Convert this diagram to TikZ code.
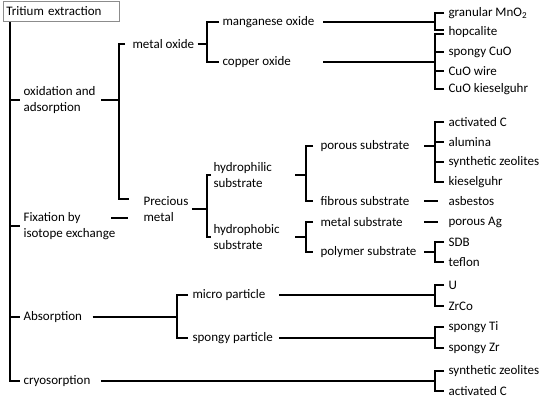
\documentclass[tikz,border=0pt]{standalone}
\usepackage{fontspec}
\setmainfont{Carlito}
\usetikzlibrary{calc}
\begin{document}
\begin{tikzpicture}[x=1pt,y=-1pt,line width=1.1pt,
  lbl/.style={anchor=west,inner sep=0pt,align=left,font=\fontsize{13}{16}\selectfont},
  rootbox/.style={draw=black!45,line width=0.8pt,fill=white,anchor=north west,text width=110pt,
    inner xsep=3pt,inner ysep=0pt,minimum height=20pt,align=left,font=\fontsize{13}{16}\selectfont}]
\useasboundingbox (0,0) rectangle (544,400);
% columns
\coordinate (s0) at (10,21);
\coordinate (s1) at (119,0);
\coordinate (s2) at (207,0);
\coordinate (s3) at (207,0);
\coordinate (s4) at (306,0);
\coordinate (s5) at (435,0);
\coordinate (s6) at (177,0);
\coordinate (c2) at (279,0);
\coordinate (c3) at (323,0);
\coordinate (c4) at (295,0);
\coordinate (c5) at (424,0);
\coordinate (precA) at (129,199);
\coordinate (fixA) at (111,218);
\coordinate (precB) at (128,218);
% root
\node[rootbox] (root) at (3,1) {Tritium extraction};
% level 1
\node[lbl] (oxad) at (23,100) {oxidation and\\adsorption};
\node[lbl] (fix) at (23,226) {Fixation by\\isotope exchange};
\node[lbl] (absn) at (23,317) {Absorption};
\node[lbl] (cryo) at (23,381) {cryosorption};
% level 2
\node[lbl] (metox) at (132,44) {metal oxide};
\node[lbl] (prec) at (143,209) {Precious\\metal};
\node[lbl] (micro) at (192,295) {micro particle};
\node[lbl] (spongp) at (192,338) {spongy particle};
% level 3
\node[lbl] (mang) at (222,22) {manganese oxide};
\node[lbl] (copp) at (222,62) {copper oxide};
\node[lbl] (hphil) at (213,175) {hydrophilic\\substrate};
\node[lbl] (hphob) at (213,237) {hydrophobic\\substrate};
% level 4
\node[lbl] (por) at (320,146) {porous substrate};
\node[lbl] (fib) at (320,201) {fibrous substrate};
\node[lbl] (met) at (320,222) {metal substrate};
\node[lbl] (poly) at (320,252) {polymer substrate};
% items
\node[lbl] (i1) at (448,13) {granular MnO\textsubscript{2}};
\node[lbl] (i2) at (448,32) {hopcalite};
\node[lbl] (i3) at (448,52) {spongy CuO};
\node[lbl] (i4) at (448,71) {CuO wire};
\node[lbl] (i5) at (448,89) {CuO kieselguhr};
\node[lbl] (i6) at (448,122) {activated C};
\node[lbl] (i7) at (448,142) {alumina};
\node[lbl] (i8) at (448,162) {synthetic zeolites};
\node[lbl] (i9) at (448,182) {kieselguhr};
\node[lbl] (i10) at (448,201) {asbestos};
\node[lbl] (i11) at (448,222) {porous Ag};
\node[lbl] (i12) at (448,242) {SDB};
\node[lbl] (i13) at (448,262) {teflon};
\node[lbl] (i14) at (448,285) {U};
\node[lbl] (i15) at (448,306) {ZrCo};
\node[lbl] (i16) at (448,327) {spongy Ti};
\node[lbl] (i17) at (448,348) {spongy Zr};
\node[lbl] (i18) at (448,371) {synthetic zeolites};
\node[lbl] (i19) at (448,391) {activated C};
% main spine
\draw ([xshift=7pt]root.south west) |- ([xshift=-3pt]cryo.west);
\foreach \n in {oxad,fix,absn} \draw (s0 |- \n.west) -- ([xshift=-3pt]\n.west);
% oxidation and adsorption
\draw ([xshift=5pt]oxad.east) -- (s1 |- oxad.east);
\draw ([xshift=-7pt]metox.west) -- (s1 |- metox.west) -- (s1 |- precA) -- (precA);
\draw (fixA) -- (precB);
% metal oxide
\draw ([xshift=3pt]metox.east) -- (s2 |- metox.east);
\draw ([xshift=-3pt]mang.west) -| (s2 |- copp.west) -- ([xshift=-3pt]copp.west);
\draw (c3 |- mang.west) -- (s5 |- mang.west);
\draw (c3 |- copp.west) -- (s5 |- copp.west);
\draw ([xshift=-4pt]i1.west) -| ($(s5|-i2.west)+(0,-2)$) -- ($(i2.west)+(-4,-2)$);
\draw ($(i2.west)+(-4,2)$) -| (s5 |- i5.west) -- ([xshift=-4pt]i5.west);
\foreach \i in {i3,i4} \draw (s5 |- \i.west) -- ([xshift=-4pt]\i.west);
% precious metal
\draw ([xshift=3pt]prec.east) -- (s3 |- prec.east);
\draw ([xshift=-2pt]hphil.west) -| (s3 |- hphob.west) -- ([xshift=-2pt]hphob.west);
\draw (c4 |- hphil.west) -- (s4 |- hphil.west);
\draw (c4 |- hphob.west) -- (s4 |- hphob.west);
\draw ([xshift=-7pt]por.west) -| (s4 |- fib.west) -- ([xshift=-7pt]fib.west);
\draw ([xshift=-7pt]met.west) -| (s4 |- poly.west) -- ([xshift=-7pt]poly.west);
\draw (c5 |- por.west) -- (s5 |- por.west);
\draw ([xshift=-4pt]i6.west) -| (s5 |- i9.west) -- ([xshift=-4pt]i9.west);
\foreach \i in {i7,i8} \draw (s5 |- \i.west) -- ([xshift=-4pt]\i.west);
\draw (c5 |- fib.west) -- ([xshift=-10pt]i10.west);
\draw (c5 |- met.west) -- ([xshift=-10pt]i11.west);
\draw (c5 |- poly.west) -- (s5 |- poly.west);
\draw ([xshift=-4pt]i12.west) -| (s5 |- i13.west) -- ([xshift=-4pt]i13.west);
% absorption
\draw ([xshift=10pt]absn.east) -- (s6 |- absn.west);
\draw ([xshift=-4pt]micro.west) -| (s6 |- spongp.west) -- ([xshift=-4pt]spongp.west);
\draw (c2 |- micro.west) -- (s5 |- micro.west);
\draw (c2 |- spongp.west) -- (s5 |- spongp.west);
\draw ([xshift=-4pt]i14.west) -| (s5 |- i15.west) -- ([xshift=-4pt]i15.west);
\draw ([xshift=-4pt]i16.west) -| (s5 |- i17.west) -- ([xshift=-4pt]i17.west);
% cryosorption
\draw ([xshift=10pt]cryo.east) -- (s5 |- cryo.west);
\draw ([xshift=-4pt]i18.west) -| (s5 |- i19.west) -- ([xshift=-4pt]i19.west);
\end{tikzpicture}
\end{document}
